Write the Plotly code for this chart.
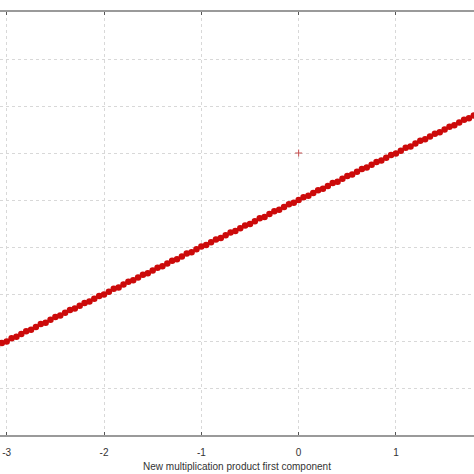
import plotly.graph_objects as go

x_vals = [-3.10,-3.05,-3.00,-2.95,-2.90,-2.85,-2.80,-2.75,-2.70,-2.65,-2.60,-2.55,-2.50,-2.45,-2.40,-2.35,-2.30,-2.25,-2.20,-2.15,
          -2.10,-2.05,-2.00,-1.95,-1.90,-1.85,-1.80,-1.75,-1.70,-1.65,-1.60,-1.55,-1.50,-1.45,-1.40,-1.35,-1.30,-1.25,-1.20,-1.15,
          -1.10,-1.05,-1.00,-0.95,-0.90,-0.85,-0.80,-0.75,-0.70,-0.65,-0.60,-0.55,-0.50,-0.45,-0.40,-0.35,-0.30,-0.25,-0.20,-0.15,
          -0.10,-0.05,0.00,0.05,0.10,0.15,0.20,0.25,0.30,0.35,0.40,0.45,0.50,0.55,0.60,0.65,0.70,0.75,0.80,0.85,
          0.90,0.95,1.00,1.05,1.10,1.15,1.20,1.25,1.30,1.35,1.40,1.45,1.50,1.55,1.60,1.65,1.70,1.75,1.80]
y_vals = [-3.11,-3.04,-3.01,-2.94,-2.91,-2.85,-2.79,-2.76,-2.70,-2.64,-2.61,-2.55,-2.49,-2.46,-2.40,-2.34,-2.31,-2.25,-2.19,-2.16,
          -2.10,-2.04,-2.01,-1.95,-1.89,-1.86,-1.80,-1.74,-1.71,-1.65,-1.59,-1.56,-1.50,-1.44,-1.41,-1.35,-1.29,-1.26,-1.20,-1.14,
          -1.11,-1.05,-0.99,-0.96,-0.90,-0.84,-0.81,-0.75,-0.69,-0.66,-0.60,-0.54,-0.51,-0.45,-0.39,-0.36,-0.30,-0.24,-0.21,-0.15,
          -0.09,-0.06,0.00,0.06,0.09,0.15,0.21,0.24,0.30,0.36,0.39,0.45,0.51,0.54,0.60,0.66,0.69,0.75,0.81,0.84,
          0.90,0.96,0.99,1.05,1.11,1.14,1.20,1.26,1.29,1.35,1.41,1.44,1.50,1.56,1.59,1.65,1.71,1.74,1.80]

outlier_x = [0.0]
outlier_y = [1.0]

x_tickvals = [-3, -2, -1, 0, 1]
x_title = "New multiplication product first component"

fig = go.Figure()
fig.add_trace(go.Scatter(
    x=x_vals, y=y_vals, mode="markers",
    marker=dict(symbol="circle", size=6.5, color="#cc0a0a", line=dict(width=0)),
    showlegend=False, hoverinfo="skip"))
fig.add_trace(go.Scatter(
    x=outlier_x, y=outlier_y, mode="markers",
    marker=dict(symbol="cross-thin", size=5, line=dict(color="#c85050", width=1)),
    showlegend=False, hoverinfo="skip"))

font_family = "Liberation Sans, DejaVu Sans, sans-serif"
fig.update_layout(
    width=474, height=474,
    margin=dict(l=0, r=0, t=12, b=39, autoexpand=False),
    paper_bgcolor="white", plot_bgcolor="white",
    font=dict(family=font_family, size=10, color="#333333"),
    xaxis=dict(
        range=[-3.069, 1.802], tickvals=x_tickvals, ticktext=[str(v) for v in x_tickvals],
        showgrid=True, gridcolor="#d8d8d8", griddash="dot", gridwidth=1,
        showline=True, linecolor="#9a9a9a", linewidth=1.5, mirror="allticks",
        ticks="inside", ticklen=3, tickcolor="#555555",
        ticklabelstandoff=7,
        zeroline=False, automargin=False,
        title=dict(text=x_title, font=dict(size=10, color="#333333"), standoff=6),
        tickfont=dict(size=10, color="#333333"),
    ),
    yaxis=dict(
        range=[-5, 4], dtick=1, showticklabels=False,
        showgrid=True, gridcolor="#d8d8d8", griddash="dot", gridwidth=1,
        zeroline=False, showline=False, ticks="", automargin=False,
    ),
)

fig.write_html("out.html", config={"displayModeBar": False},
               post_script="document.body.style.margin='0';document.body.style.overflow='hidden';")
